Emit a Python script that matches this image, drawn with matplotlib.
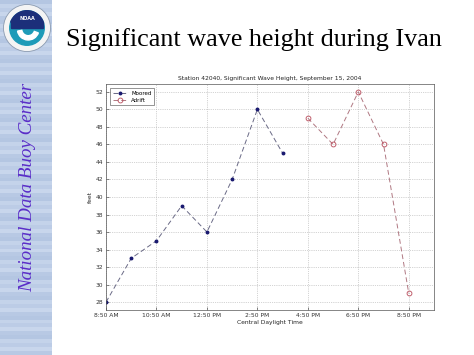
import matplotlib
matplotlib.use("Agg")
import matplotlib.pyplot as plt
from matplotlib.patches import Circle, Rectangle, Wedge
import numpy as np

# Data (hours since midnight, CDT)
moored_hours = [8 + 50/60, 9 + 50/60, 10 + 50/60, 11 + 50/60, 12 + 50/60, 13 + 50/60, 14 + 50/60, 15 + 50/60]
moored_feet = [28, 33, 35, 39, 36, 42, 50, 45]
adrift_hours = [16 + 50/60, 17 + 50/60, 18 + 50/60, 19 + 50/60, 20 + 50/60]
adrift_feet = [49, 46, 52, 46, 29]
tick_hours = [8 + 50/60, 10 + 50/60, 12 + 50/60, 14 + 50/60, 16 + 50/60, 18 + 50/60, 20 + 50/60]
tick_labels = ["8:50 AM", "10:50 AM", "12:50 PM", "2:50 PM", "4:50 PM", "6:50 PM", "8:50 PM"]
y_ticks = list(range(28, 53, 2))

W, H = 474, 355
fig = plt.figure(figsize=(W/100, H/100), dpi=100)
fig.patch.set_facecolor("white")

# Left blue strip
strip = fig.add_axes([0, 0, 52/W, 1])
strip.set_xlim(0, 1); strip.set_ylim(0, 1)
strip.axis("off")
strip.add_patch(Rectangle((0, 0), 1, 1, color="#c0d0e8", zorder=0))
n_rows = 90
for i in range(n_rows):
    shade = ["#b8c9e4", "#c8d6ec", "#bccce6", "#c4d3ea", "#b4c6e2"][i % 5]
    strip.add_patch(Rectangle((0, i / n_rows), 1, 1 / n_rows, color=shade, lw=0, zorder=1))
strip.text(0.54, 1 - 187/H, "National Data Buoy Center", rotation=90, ha="center", va="center",
           fontsize=13.7, family="Liberation Serif", style="italic", color="#5a2dc8", zorder=3)

# NOAA logo
logo = fig.add_axes([3/W, 1 - 52/H, 48/W, 48/H])
logo.set_xlim(-1, 1); logo.set_ylim(-1, 1); logo.set_aspect("equal")
logo.axis("off")
logo.add_patch(Circle((0, 0), 0.98, color="#f4f4f4", ec="#8a9ab0", lw=0.6))
logo.add_patch(Circle((0, 0), 0.72, color="#1e9bb8"))
logo.add_patch(Wedge((0, 0), 0.72, 20, 160, color="#1c2f7a"))
logo.add_patch(Rectangle((-0.68, 0.0), 1.36, 0.25, color="#1c2f7a"))
logo.text(0, 0.38, "NOAA", ha="center", va="center", fontsize=3.5, color="white", weight="bold")
logo.add_patch(Wedge((0.05, -0.05), 0.45, 190, 340, width=0.18, color="white"))

# Slide title
fig.text(254/W, 1 - 40/H, "Significant wave height during Ivan", ha="center", va="center",
         fontsize=18.8, family="Liberation Serif", color="black")

# Chart axes
ax = fig.add_axes([106/W, 1 - 310/H, (434 - 106)/W, (310 - 84)/H])
ax.plot(moored_hours, moored_feet, linestyle="--", color="#6a6a86", lw=0.7,
        marker="o", markersize=1.8, markerfacecolor="#1a1a70", markeredgecolor="#1a1a70",
        dashes=(5, 3), label="Moored")
ax.plot(adrift_hours, adrift_feet, linestyle="--", color="#b07882", lw=0.7,
        marker="o", markersize=3.5, markerfacecolor="none", markeredgecolor="#b84a5a",
        markeredgewidth=0.6, dashes=(5, 3), label="Adrift")
ax.set_xlim(8 + 50/60, 21 + 50/60)
ax.set_ylim(27.1, 52.9)
ax.set_xticks(tick_hours)
ax.set_xticklabels(tick_labels)
ax.set_yticks(y_ticks)
ax.tick_params(labelsize=4.3, length=2, width=0.4, direction="in", pad=2, colors="#333333")
ax.grid(True, linestyle=":", color="#aaaaaa", lw=0.5)
for s in ax.spines.values():
    s.set_linewidth(0.5)
    s.set_color("#555555")
ax.set_title("Station 42040, Significant Wave Height, September 15, 2004", fontsize=4.3, pad=3, color="#222222")
ax.set_xlabel("Central Daylight Time", fontsize=4.3, labelpad=1.5, color="#222222")
ax.set_ylabel("feet", fontsize=4.3, labelpad=2, color="#222222")
leg = ax.legend(loc="upper left", fontsize=4, frameon=True, fancybox=False, edgecolor="#444444",
                handlelength=2.5, borderpad=0.4, labelspacing=0.4, borderaxespad=0.8)
leg.get_frame().set_linewidth(0.5)

fig.savefig("out.png", dpi=100)
